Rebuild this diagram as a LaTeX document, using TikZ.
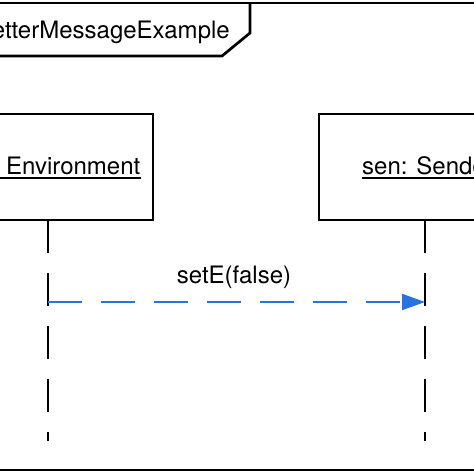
\documentclass[tikz,border=0pt]{standalone}
\usepackage{fontspec}
\setmainfont{TeX Gyre Heros}
\usetikzlibrary{arrows.meta}
\definecolor{msgblue}{RGB}{38,115,225}
\begin{document}
\begin{tikzpicture}[x=1pt,y=-1pt,
  txt/.style={font=\fontsize{24}{28}\selectfont, inner sep=0pt},
  framestyle/.style={draw=black, line width=2.7pt},
  lifebox/.style={draw=black, line width=2.3pt, minimum width=212pt, minimum height=106pt, inner sep=0pt},
  uline/.style={draw=black, line width=1.5pt},
  lifeline/.style={draw=black, line width=2.2pt, dash pattern=on 33pt off 20pt},
  msg/.style={draw=msgblue, line width=2.2pt, dash pattern=on 34pt off 19pt, -{Triangle[length=23pt,width=16pt]}}]
\useasboundingbox (0,0) rectangle (474,474);
\clip (0,0) rectangle (474,474);
% frame
\draw[framestyle] (-60,3) rectangle (540,470);
\draw[framestyle] (-60,56) -- (222,56) -- (250,33) -- (250,3);
\node[txt, anchor=base east] (title) at (230,38) {sd SetterMessageExample};
% lifeline heads
\node[lifebox] (env) at (47,167) {};
\node[lifebox] (sen) at (425,167) {};
\node[txt, anchor=base east] (envtext) at (140.5,174) {env : Environment};
\node[txt, anchor=base west] (sentext) at (362,174) {sen: Sender};
\draw[uline] ([yshift=-4pt]envtext.base west) -- ([yshift=-4pt]envtext.base east);
\draw[uline] ([yshift=-4pt]sentext.base west) -- ([yshift=-4pt]sentext.base east);
% lifelines
\coordinate (envend) at (48,441);
\coordinate (senend) at (425,441);
\draw[lifeline] (48,220) coordinate (envtop) -- (envend);
\draw[lifeline] (425,220) coordinate (sentop) -- (senend);
% message
\coordinate (m1) at (48,302);
\coordinate (m2) at (425,302);
\draw[msg] (m1) -- (m2);
\node[txt, anchor=base] (msglabel) at (234,283) {setE(false)};
\end{tikzpicture}
\end{document}
